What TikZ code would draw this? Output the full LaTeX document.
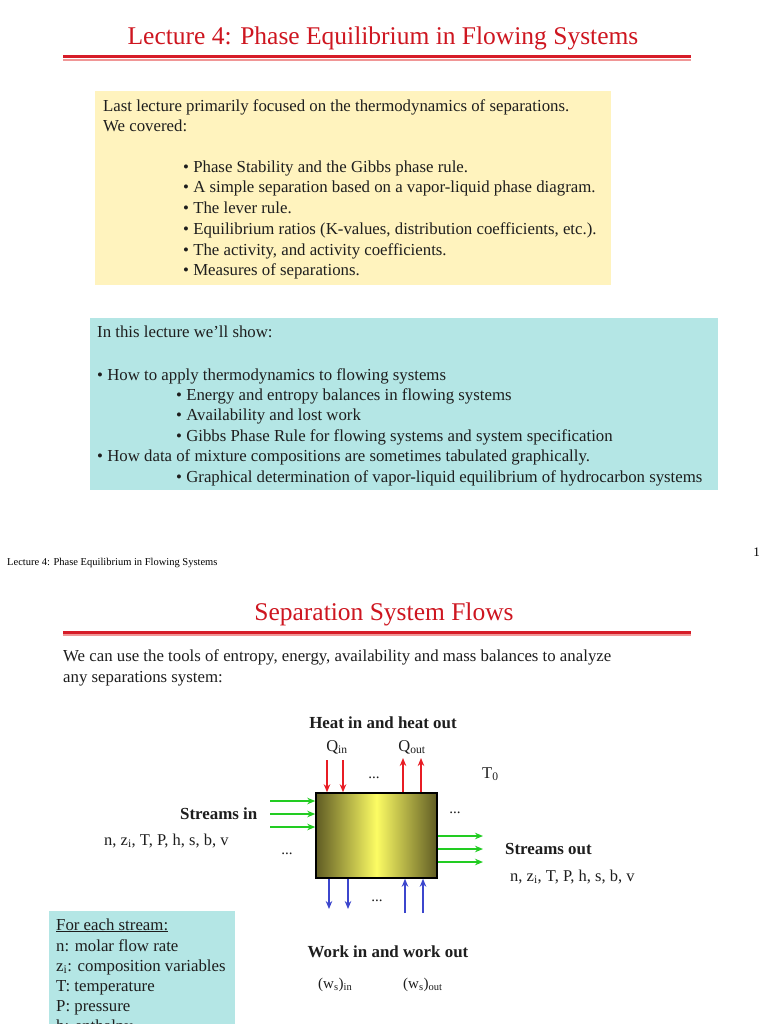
\documentclass[tikz,border=0pt]{standalone}
\usepackage{fontspec}
\setmainfont{Liberation Serif}
\usetikzlibrary{arrows.meta}

\definecolor{titlered}{RGB}{206,22,32}
\definecolor{rulered}{RGB}{214,28,40}
\definecolor{rulepink}{RGB}{240,150,150}
\definecolor{noteyellow}{RGB}{255,243,190}
\definecolor{notecyan}{RGB}{180,230,229}
\definecolor{textgray}{RGB}{30,30,30}
\definecolor{heatred}{RGB}{232,28,36}
\definecolor{streamgreen}{RGB}{34,204,34}
\definecolor{workblue}{RGB}{60,70,205}
\definecolor{olivedark}{RGB}{96,92,36}
\definecolor{olivelight}{RGB}{252,252,100}

\begin{document}
\begin{tikzpicture}[x=1pt,y=-1pt,
  slidetitle/.style={anchor=base, inner sep=0, text=titlered, font=\fontsize{25.5}{30}\selectfont},
  bodytext/.style={anchor=base west, inner sep=0, text=textgray, font=\fontsize{16.8}{20}\selectfont},
  flowtext/.style={anchor=base west, inner sep=0, text=textgray, font=\fontsize{16.5}{20}\selectfont},
  flowhead/.style={anchor=base, inner sep=0, text=textgray, font=\bfseries\fontsize{16.9}{20}\selectfont},
  dots/.style={inner sep=0, text=textgray, font=\fontsize{15}{17}\selectfont},
  heatarrow/.style={draw=heatred, line width=1.4pt, -{Stealth[length=8pt,width=6.5pt]}},
  streamarrow/.style={draw=streamgreen, line width=1.4pt, -{Stealth[length=8pt,width=6.5pt]}},
  workarrow/.style={draw=workblue, line width=1.4pt, -{Stealth[length=8pt,width=6.5pt]}}]
\useasboundingbox (0,0) rectangle (768,1024);
\clip (0,0) rectangle (768,1024);
\fill[white] (0,0) rectangle (768,1024);

% first slide
\node[slidetitle] (title1) at (383,45) {Lecture 4: Phase Equilibrium in Flowing Systems};
\draw[rulered, line width=3pt] (63,57) -- (691,57);
\draw[rulepink, line width=1.2pt] (63,60) -- (691,60);

\fill[noteyellow] (95,91) rectangle (611,285);
\node[bodytext] (prev1) at (103,112) {Last lecture primarily focused on the thermodynamics of separations.};
\node[bodytext] (prev2) at (103,132) {We covered:};
\node[bodytext] (prev3) at (183,173) {• Phase Stability and the Gibbs phase rule.};
\node[bodytext] (prev4) at (183,193) {• A simple separation based on a vapor-liquid phase diagram.};
\node[bodytext] (prev5) at (183,214) {• The lever rule.};
\node[bodytext] (prev6) at (183,234) {• Equilibrium ratios (K-values, distribution coefficients, etc.).};
\node[bodytext] (prev7) at (183,255) {• The activity, and activity coefficients.};
\node[bodytext] (prev8) at (183,275) {• Measures of separations.};

\fill[notecyan] (90,318) rectangle (718,490);
\node[bodytext] (now1) at (97,337) {In this lecture we’ll show:};
\node[bodytext] (now2) at (97,380) {• How to apply thermodynamics to flowing systems};
\node[bodytext] (now3) at (176,400) {• Energy and entropy balances in flowing systems};
\node[bodytext] (now4) at (176,420) {• Availability and lost work};
\node[bodytext] (now5) at (176,441) {• Gibbs Phase Rule for flowing systems and system specification};
\node[bodytext] (now6) at (97,461) {• How data of mixture compositions are sometimes tabulated graphically.};
\node[bodytext] (now7) at (176,482) {• Graphical determination of vapor-liquid equilibrium of hydrocarbon systems};

\node[anchor=base west, inner sep=0, font=\fontsize{10.5}{12}\selectfont] (footer) at (7,565) {Lecture 4: Phase Equilibrium in Flowing Systems};
\node[anchor=base east, inner sep=0, font=\fontsize{13}{15}\selectfont] (pageno) at (760,556) {1};

% second slide
\node[slidetitle] (title2) at (384,620) {Separation System Flows};
\draw[rulered, line width=3pt] (63,632) -- (691,632);
\draw[rulepink, line width=1.2pt] (63,635) -- (691,635);

\node[bodytext] (intro1) at (63,661) {We can use the tools of entropy, energy, availability and mass balances to analyze};
\node[bodytext] (intro2) at (63,682) {any separations system:};

\node[flowhead] (heat) at (383,728) {Heat in and heat out};
\node[flowtext, anchor=base] (qin) at (337,751) {Q\textsubscript{in}};
\node[flowtext, anchor=base] (qout) at (412,751) {Q\textsubscript{out}};
\node[flowtext] (tzero) at (482,778) {T\textsubscript{0}};

\node[draw=black, line width=1.5pt, minimum width=121, minimum height=85, inner sep=0,
  left color=olivedark, right color=olivedark, middle color=olivelight] (sep) at (376.5,835.5) {};

\coordinate (qin1) at (327,760);
\coordinate (qin2) at (343,760);
\coordinate (qout1) at (403,758);
\coordinate (qout2) at (421,758);
\draw[heatarrow] (qin1) -- (qin1 |- sep.north);
\draw[heatarrow] (qin2) -- (qin2 |- sep.north);
\draw[heatarrow] (qout1 |- sep.north) -- (qout1);
\draw[heatarrow] (qout2 |- sep.north) -- (qout2);
\node[dots] (heatdots) at (374,778) {...};

\coordinate (sin1) at (270,801);
\coordinate (sin2) at (270,814);
\coordinate (sin3) at (270,827);
\draw[streamarrow] (sin1) -- (sin1 -| sep.west);
\draw[streamarrow] (sin2) -- (sin2 -| sep.west);
\draw[streamarrow] (sin3) -- (sin3 -| sep.west);
\node[flowhead, anchor=base west] (inlabel) at (180,819) {Streams in};
\node[flowtext] (invars) at (104,845) {n, z\textsubscript{i}, T, P, h, s, b, v};
\node[dots] (indots) at (287,854) {...};

\coordinate (sout1) at (483,836);
\coordinate (sout2) at (483,849);
\coordinate (sout3) at (483,862);
\draw[streamarrow] (sout1 -| sep.east) -- (sout1);
\draw[streamarrow] (sout2 -| sep.east) -- (sout2);
\draw[streamarrow] (sout3 -| sep.east) -- (sout3);
\node[dots] (outdots) at (455,813) {...};
\node[flowhead, anchor=base west] (outlabel) at (505,854) {Streams out};
\node[flowtext] (outvars) at (510,881) {n, z\textsubscript{i}, T, P, h, s, b, v};

\coordinate (win1) at (329,909);
\coordinate (win2) at (348,909);
\coordinate (wout1) at (405,913);
\coordinate (wout2) at (423,913);
\draw[workarrow] (win1 |- sep.south) -- (win1);
\draw[workarrow] (win2 |- sep.south) -- (win2);
\draw[workarrow] (wout1) -- (wout1 |- sep.south);
\draw[workarrow] (wout2) -- (wout2 |- sep.south);
\node[dots] (workdots) at (377,901) {...};

\node[flowhead] (work) at (388,957) {Work in and work out};
\node[flowtext, font=\fontsize{15}{18}\selectfont] (wsin) at (318,988) {(w\textsubscript{s})\textsubscript{in}};
\node[flowtext, font=\fontsize{15}{18}\selectfont] (wsout) at (403,988) {(w\textsubscript{s})\textsubscript{out}};

\fill[notecyan] (49,911) rectangle (235,1030);
\node[bodytext] (key1) at (56,930) {\underline{For each stream:}};
\node[bodytext] (key2) at (56,951) {n: molar flow rate};
\node[bodytext] (key3) at (56,971) {z\textsubscript{i}: composition variables};
\node[bodytext] (key4) at (56,991) {T: temperature};
\node[bodytext] (key5) at (56,1011) {P: pressure};
\node[bodytext] (key6) at (56,1031) {h: enthalpy};
\end{tikzpicture}
\end{document}
